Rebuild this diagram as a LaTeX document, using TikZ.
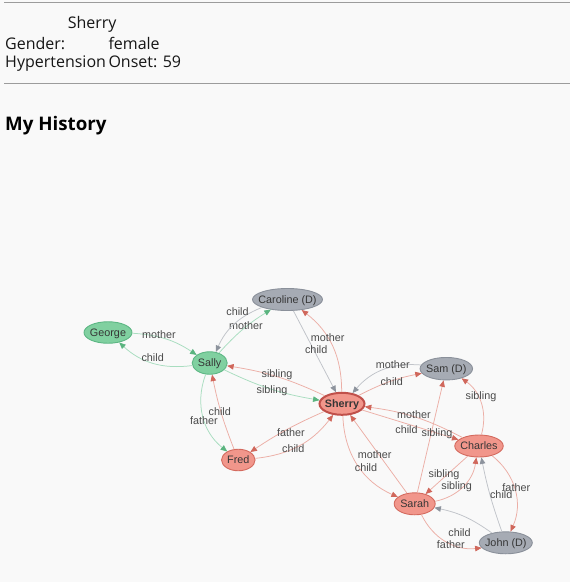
\documentclass[tikz,border=0pt]{standalone}
\usepackage{fontspec}
\setmainfont{Open Sans}
\newfontfamily\arialf{Liberation Sans}
\usetikzlibrary{shapes.geometric,arrows.meta}
\definecolor{bg}{HTML}{F9F9F9}
\definecolor{rulec}{HTML}{9C9C9C}
\definecolor{hdrtext}{HTML}{161616}
\definecolor{ntext}{HTML}{363636}
\definecolor{ltext}{HTML}{4A4A4A}
\definecolor{gfill}{HTML}{80D0A0}
\definecolor{gline}{HTML}{5DB784}
\definecolor{rfill}{HTML}{F1968B}
\definecolor{rline}{HTML}{D46A5E}
\definecolor{sline}{HTML}{C0504A}
\definecolor{afill}{HTML}{A6ABB4}
\definecolor{aline}{HTML}{8A909A}
\definecolor{gedge}{HTML}{A8DDBF}
\definecolor{redge}{HTML}{ECAEA6}
\definecolor{aedge}{HTML}{C0C3C9}
\definecolor{garrow}{HTML}{5AB47F}
\definecolor{rarrow}{HTML}{D0675B}
\definecolor{aarrow}{HTML}{8D939D}
\begin{document}
\begin{tikzpicture}[x=1pt,y=1pt,
  hdr/.style={inner sep=0pt, text=hdrtext, font=\fontsize{16}{19}\selectfont},
  nd/.style={ellipse, draw, line width=0.9pt, inner sep=0pt, text=ntext,
    font=\arialf\fontsize{10.8}{12}\selectfont, text height=7.6pt, text depth=0.4pt},
  gn/.style={nd, fill=gfill, draw=gline},
  rn/.style={nd, fill=rfill, draw=rline},
  an/.style={nd, fill=afill, draw=aline},
  edg/.style={line width=0.75pt},
  eg/.style={edg, draw=gedge, -{Triangle[length=6.5pt,width=5.5pt,color=garrow]}},
  er/.style={edg, draw=redge, -{Triangle[length=6.5pt,width=5.5pt,color=rarrow]}},
  ea/.style={edg, draw=aedge, -{Triangle[length=6.5pt,width=5.5pt,color=aarrow]}},
  lbl/.style={inner sep=0pt, text=ltext, font=\arialf\fontsize{10.8}{12}\selectfont}
]
\fill[bg] (0,0) rectangle (570,-582);
\useasboundingbox (0,0) rectangle (570,-582);

% header
\draw[rulec, line width=1.3pt] (4,-2.7) -- (570,-2.7);
\draw[rulec, line width=1.3pt] (4,-83.3) -- (570,-83.3);
\node[hdr, anchor=base] (title) at (92.2,-28.3) {Sherry};
\node[hdr, anchor=base west] (g1) at (5,-49.3) {Gender:};
\node[hdr, anchor=base west] (g2) at (108.3,-49.3) {female};
\node[hdr, anchor=base west] (h1) at (5,-67.7) {Hypertension};
\node[hdr, anchor=base west] (h2) at (108.3,-67.7) {Onset: 59};
\node[inner sep=0pt, anchor=base west, text=black, font=\bfseries\fontsize{18.72}{22}\selectfont] (mh) at (5,-130) {My History};

% nodes
\node[an, minimum width=70pt, minimum height=22pt] (caroline) at (287.5,-299.5) {\makebox[0pt]{Caroline (D)}};
\node[gn, minimum width=48pt, minimum height=21.5pt] (george) at (108,-332.5) {\makebox[0pt]{George}};
\node[gn, minimum width=35pt, minimum height=22.5pt] (sally) at (209.7,-363) {\makebox[0pt]{Sally}};
\node[rn, draw=sline, line width=2pt, minimum width=45pt, minimum height=22pt, font=\arialf\bfseries\fontsize{10.8}{12}\selectfont] (sherry) at (342,-403.8) {\makebox[0pt]{Sherry}};
\node[an, minimum width=52.5pt, minimum height=22.5pt] (sam) at (446.3,-368.7) {\makebox[0pt]{Sam (D)}};
\node[rn, minimum width=48.5pt, minimum height=22pt] (charles) at (479,-446) {\makebox[0pt]{Charles}};
\node[rn, minimum width=33.5pt, minimum height=21.5pt] (fred) at (238.3,-460) {\makebox[0pt]{Fred}};
\node[rn, minimum width=41pt, minimum height=22pt] (sarah) at (414.7,-503.8) {\makebox[0pt]{Sarah}};
\node[an, minimum width=53pt, minimum height=22pt] (john) at (505.8,-542.8) {\makebox[0pt]{John (D)}};

% edges
\draw[eg] (george) to[bend left=15] (sally) node[lbl] at (159,-335) {mother};
\draw[eg] (sally) to[bend left=25] (george) node[lbl] at (152.7,-357.8) {child};
\draw[eg] (sally) to[bend left=8] (caroline) node[lbl] at (246,-326) {mother};
\draw[ea] (caroline) to[bend right=22] (sally) node[lbl] at (237.5,-311.2) {child};
\draw[eg] (sally) to[bend right=8] (sherry) node[lbl] at (272,-390.5) {sibling};
\draw[er] (sherry) to[bend right=8] (sally) node[lbl] at (277,-374.7) {sibling};
\draw[eg] (sally) to[bend right=36] (fred) node[lbl] at (204,-420.5) {father};
\draw[er] (fred) to[bend left=5] (sally) node[lbl] at (219.8,-412) {child};
\draw[er] (sherry) to[bend right=5] (fred) node[lbl] at (291,-433) {father};
\draw[er] (fred) to[bend right=23] (sherry) node[lbl] at (293.3,-448.8) {child};
\draw[ea] (caroline) to (sherry) node[lbl] at (316.2,-349.5) {child};
\draw[er] (sherry) to[bend right=26] (caroline) node[lbl] at (327.7,-337.5) {mother};
\draw[ea] (sam) to[bend right=27] (sherry) node[lbl] at (392.8,-364.7) {mother};
\draw[er] (sherry) to[bend left=8] (sam) node[lbl] at (391.7,-381.3) {child};
\draw[er] (charles) to[bend right=10] (sherry) node[lbl] at (414,-414.7) {mother};
\draw[er] (sherry) to (charles) node[lbl] at (406.5,-429.7) {child};
\draw[er] (sarah) to (sam) node[lbl] at (437,-434) {sibling};
\draw[er] (charles) to[bend right=35] (sam) node[lbl] at (481,-396.7) {sibling};
\draw[er] (sherry) to[bend right=32] (sarah) node[lbl] at (366,-468) {child};
\draw[er] (sarah) to (sherry) node[lbl] at (374.7,-454.5) {mother};
\draw[er] (charles) to (sarah) node[lbl] at (444,-474.7) {sibling};
\draw[er] (sarah) to[bend right=35] (charles) node[lbl] at (456.7,-486.7) {sibling};
\draw[er] (charles) to[bend left=38] (john) node[lbl] at (516.3,-487.5) {father};
\draw[ea] (john) to[bend left=4] (charles) node[lbl] at (501.2,-494.5) {child};
\draw[ea] (john) to[bend right=12] (sarah) node[lbl] at (459.5,-532.2) {child};
\draw[er] (sarah) to[bend right=35] (john) node[lbl] at (450.8,-544.7) {father};
\end{tikzpicture}
\end{document}
